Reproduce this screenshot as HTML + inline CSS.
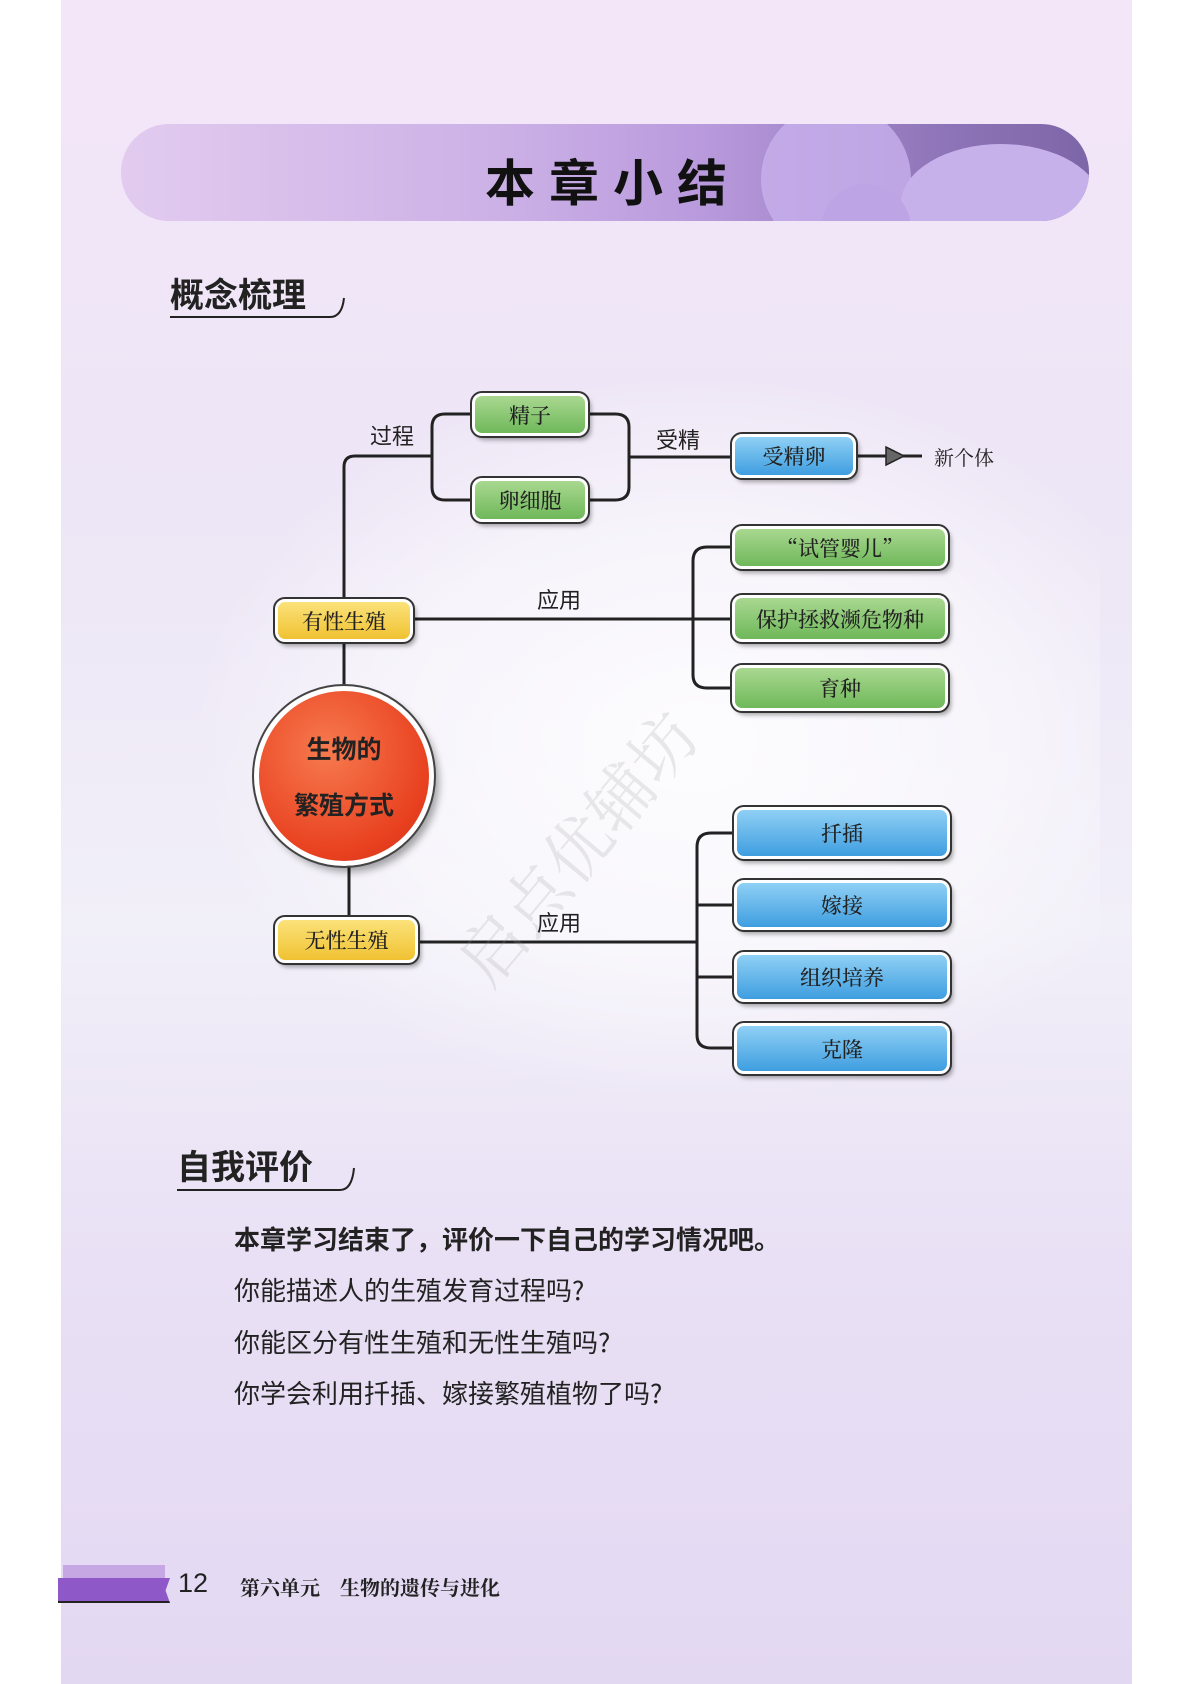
<!DOCTYPE html>
<html><head><meta charset="utf-8"><style>
*{margin:0;padding:0;box-sizing:border-box}
body{width:1190px;height:1684px;position:relative;background:#fff;overflow:hidden;font-family:"Liberation Sans","Noto Sans CJK SC",sans-serif;color:#1a1a1a}
#page{position:absolute;left:61px;top:0;width:1071px;height:1684px;background:linear-gradient(180deg,#f3e6f8 0%,#ede6f6 30%,#f1eff8 55%,#e9e0f5 75%,#e3d8f2 100%)}
#glow{position:absolute;left:200px;top:380px;width:900px;height:720px;background:radial-gradient(ellipse at 55% 50%,rgba(255,255,255,.85) 0%,rgba(255,255,255,.5) 45%,rgba(255,255,255,0) 72%)}
.abs{position:absolute}
.box{position:absolute;border-radius:10px;border:3px solid #fff;outline:2px solid #333;display:flex;align-items:center;justify-content:center;font-family:"Noto Serif CJK SC","Noto Sans CJK SC",serif;font-size:21px;font-weight:500;color:#222;box-shadow:3px 4px 5px rgba(0,0,0,.35)}
.g{background:linear-gradient(180deg,#a9d890,#6fb85a)}
.b{background:linear-gradient(180deg,#8fd0f5,#3f9ee0)}
.y{background:linear-gradient(180deg,#fbe27a,#f0c232)}
.lbl{position:absolute;font-size:22px;color:#222;font-family:"Noto Sans CJK SC",sans-serif}
.t{position:absolute;left:234px;font-size:26px;font-family:"Noto Sans CJK SC",sans-serif;color:#222;white-space:nowrap}
</style></head><body>
<div id="page"></div>
<div id="glow"></div>
<!-- banner -->
<div class="abs" style="left:121px;top:124px;width:968px;height:97px;border-radius:48px;background:linear-gradient(90deg,#e2cbef 0%,#cbb0e6 40%,#b99add 60%,#8e74b8 85%,#7d66a8 100%);overflow:hidden">
<div class="abs" style="left:640px;top:-20px;width:150px;height:150px;border-radius:50%;background:#c8b0ec;opacity:.8"></div>
<div class="abs" style="left:780px;top:20px;width:200px;height:120px;border-radius:50%;background:#c7b1ea;"></div>
<div class="abs" style="left:700px;top:60px;width:90px;height:90px;border-radius:50%;background:#bda4e4"></div>
</div>
<div class="abs" style="left:485px;top:144px;font-size:50px;font-weight:bold;letter-spacing:14px;font-family:'Noto Sans CJK SC',sans-serif;color:#111">本章小结</div>
<!-- section 1 -->
<div class="abs" style="left:170px;top:268px;font-size:34px;font-family:'Noto Sans CJK SC',sans-serif;font-weight:bold;color:#222">概念梳理</div>
<svg class="abs" style="left:0;top:0" width="1190" height="1684">
<path d="M170 317 H330 Q342 317 344 298" fill="none" stroke="#222" stroke-width="2"/>
<path d="M177 1190 H340 Q352 1190 354 1168" fill="none" stroke="#222" stroke-width="2"/>
<g fill="none" stroke="#222" stroke-width="3">
<path d="M344 598 V467 Q344 456 355 456 H432"/>
<path d="M471 414 H445 Q432 414 432 427 V487 Q432 500 445 500 H471"/>
<path d="M589 414 H615 Q629 414 629 427 V487 Q629 500 615 500 H589"/>
<path d="M629 457 H731"/>
<path d="M857 456 H922"/>
<path d="M344 643 V690"/>
<path d="M349 864 V916"/>
<path d="M414 619 H731"/>
<path d="M731 547 H707 Q693 547 693 561 V675 Q693 688 707 688 H731"/>
<path d="M419 942 H697"/>
<path d="M733 833 H711 Q697 833 697 847 V1035 Q697 1048 711 1048 H733"/>
<path d="M697 905 H733 M697 977 H733"/>
</g>
<polygon points="886,447 904,456 886,465" fill="#666" stroke="#222" stroke-width="1.5"/>
<text x="0" y="0" font-size="66" fill="#999" opacity=".2" transform="translate(490 990) rotate(-50)" font-family="Noto Serif CJK SC,serif">启点优辅坊</text>
</svg>
<div class="lbl" style="left:370px;top:419px">过程</div>
<div class="lbl" style="left:656px;top:423px">受精</div>
<div class="lbl" style="left:934px;top:442px;font-size:20px;font-family:'Noto Serif CJK SC',serif">新个体</div>
<div class="lbl" style="left:537px;top:583px">应用</div>
<div class="lbl" style="left:537px;top:906px">应用</div>
<div class="box g" style="left:472px;top:393px;width:116px;height:43px">精子</div>
<div class="box g" style="left:472px;top:478px;width:116px;height:44px">卵细胞</div>
<div class="box b" style="left:732px;top:434px;width:124px;height:44px">受精卵</div>
<div class="box y" style="left:275px;top:599px;width:138px;height:43px">有性生殖</div>
<div class="box y" style="left:275px;top:917px;width:143px;height:46px">无性生殖</div>
<div class="box g" style="left:732px;top:526px;width:216px;height:43px">“试管婴儿”</div>
<div class="box g" style="left:732px;top:595px;width:216px;height:47px">保护拯救濒危物种</div>
<div class="box g" style="left:732px;top:665px;width:216px;height:46px">育种</div>
<div class="box b" style="left:734px;top:807px;width:216px;height:52px">扦插</div>
<div class="box b" style="left:734px;top:880px;width:216px;height:50px">嫁接</div>
<div class="box b" style="left:734px;top:952px;width:216px;height:50px">组织培养</div>
<div class="box b" style="left:734px;top:1023px;width:216px;height:51px">克隆</div>
<div class="abs" style="left:254px;top:686px;width:180px;height:180px;border-radius:50%;background:radial-gradient(circle at 40% 35%,#f77a4e,#e8401f 70%,#c9301a);border:5px solid #fff;outline:2px solid #444;box-shadow:5px 6px 8px rgba(0,0,0,.35);display:flex;flex-direction:column;align-items:center;justify-content:center;font-size:25px;font-weight:bold;line-height:56px;font-family:'Noto Sans CJK SC',sans-serif;color:#222"><div>生物的</div><div>繁殖方式</div></div>
<!-- section 2 -->
<div class="abs" style="left:177px;top:1140px;font-size:34px;font-family:'Noto Sans CJK SC',sans-serif;font-weight:bold;color:#222">自我评价</div>
<div class="t" style="top:1220px;font-weight:bold">本章学习结束了，评价一下自己的学习情况吧。</div>
<div class="t" style="top:1271px">你能描述人的生殖发育过程吗?</div>
<div class="t" style="top:1323px">你能区分有性生殖和无性生殖吗?</div>
<div class="t" style="top:1374px">你学会利用扦插、嫁接繁殖植物了吗?</div>
<!-- footer -->
<div class="abs" style="left:63px;top:1565px;width:102px;height:15px;background:#c7a6e4"></div>
<div class="abs" style="left:58px;top:1578px;width:112px;height:25px;background:#8e58c8;border-bottom:2px solid #222;clip-path:polygon(0 0,100% 0,96% 50%,100% 100%,0 100%)"></div>
<div class="abs" style="left:178px;top:1568px;font-size:27px;color:#222">12</div>
<div class="abs" style="left:240px;top:1572px;font-size:20px;font-weight:bold;font-family:'Noto Serif CJK SC',serif;color:#222;white-space:nowrap">第六单元　生物的遗传与进化</div>
</body></html>
